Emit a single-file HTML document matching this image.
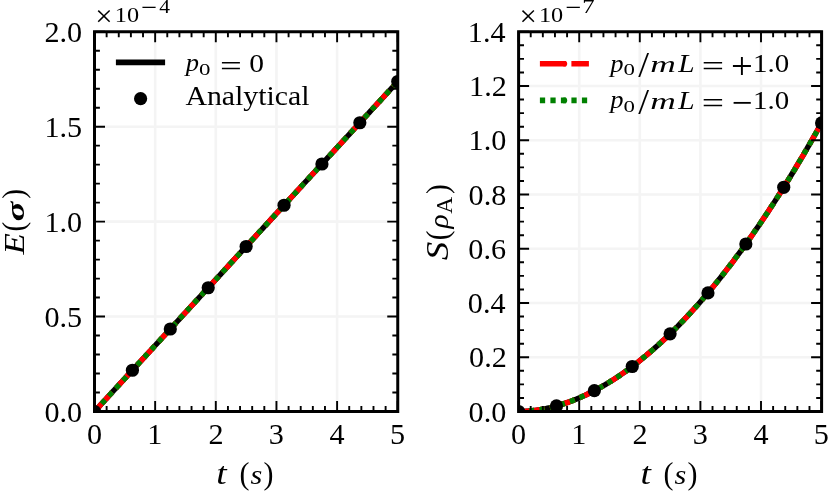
<!DOCTYPE html>
<html><head><meta charset="utf-8"><title>plot</title>
<style>
html,body{margin:0;padding:0;background:#fff;overflow:hidden;}
svg{display:block;}
text{font-family:"Liberation Serif", serif;fill:#000;}
.it{font-style:italic;}
</style></head><body>
<svg width="832" height="493" viewBox="0 0 832 493">
<rect width="832" height="493" fill="#fff"/>
<defs>
<clipPath id="cl"><rect x="94.5" y="31.75" width="303.25" height="379.75"/></clipPath>
<clipPath id="cr"><rect x="518.6" y="31.75" width="303.0" height="379.75"/></clipPath>
</defs>

<path d="M155.15 31.75V411.5M215.8 31.75V411.5M276.45 31.75V411.5M337.1 31.75V411.5M94.5 316.56H397.75M94.5 221.62H397.75M94.5 126.69H397.75" stroke="#f4f4f4" stroke-width="2.6" fill="none"/>
<g clip-path="url(#cl)" fill="none" stroke-width="5.4" stroke-linejoin="round">
<polyline points="94.50,411.50 96.02,409.85 97.53,408.20 99.05,406.55 100.56,404.90 102.08,403.25 103.60,401.60 105.11,399.95 106.63,398.30 108.15,396.65 109.66,395.00 111.18,393.35 112.70,391.70 114.21,390.05 115.73,388.40 117.24,386.75 118.76,385.10 120.28,383.45 121.79,381.80 123.31,380.15 124.83,378.50 126.34,376.85 127.86,375.20 129.37,373.55 130.89,371.90 132.41,370.25 133.92,368.60 135.44,366.95 136.96,365.30 138.47,363.65 139.99,362.00 141.50,360.35 143.02,358.70 144.54,357.05 146.05,355.40 147.57,353.75 149.09,352.10 150.60,350.45 152.12,348.80 153.63,347.15 155.15,345.50 156.67,343.85 158.18,342.20 159.70,340.55 161.22,338.90 162.73,337.25 164.25,335.60 165.76,333.95 167.28,332.30 168.80,330.65 170.31,329.00 171.83,327.35 173.34,325.70 174.86,324.05 176.38,322.40 177.89,320.75 179.41,319.10 180.93,317.45 182.44,315.80 183.96,314.15 185.47,312.50 186.99,310.85 188.51,309.20 190.02,307.55 191.54,305.90 193.06,304.25 194.57,302.60 196.09,300.95 197.61,299.30 199.12,297.65 200.64,296.00 202.15,294.35 203.67,292.70 205.19,291.05 206.70,289.40 208.22,287.75 209.74,286.10 211.25,284.45 212.77,282.80 214.28,281.15 215.80,279.50 217.32,277.85 218.83,276.20 220.35,274.55 221.87,272.90 223.38,271.25 224.90,269.60 226.41,267.95 227.93,266.30 229.45,264.65 230.96,263.00 232.48,261.35 234.00,259.70 235.51,258.05 237.03,256.40 238.54,254.75 240.06,253.10 241.58,251.45 243.09,249.80 244.61,248.15 246.12,246.50 247.64,244.85 249.16,243.20 250.67,241.55 252.19,239.90 253.71,238.25 255.22,236.60 256.74,234.95 258.25,233.30 259.77,231.65 261.29,230.00 262.80,228.35 264.32,226.70 265.84,225.05 267.35,223.40 268.87,221.75 270.38,220.10 271.90,218.45 273.42,216.80 274.93,215.15 276.45,213.50 277.97,211.85 279.48,210.20 281.00,208.55 282.51,206.90 284.03,205.25 285.55,203.60 287.06,201.95 288.58,200.30 290.10,198.65 291.61,197.00 293.13,195.35 294.64,193.70 296.16,192.05 297.68,190.40 299.19,188.75 300.71,187.10 302.23,185.45 303.74,183.80 305.26,182.15 306.77,180.50 308.29,178.85 309.81,177.20 311.32,175.55 312.84,173.90 314.36,172.25 315.87,170.60 317.39,168.95 318.90,167.30 320.42,165.65 321.94,164.00 323.45,162.35 324.97,160.70 326.49,159.05 328.00,157.40 329.52,155.75 331.04,154.10 332.55,152.45 334.07,150.80 335.58,149.15 337.10,147.50 338.62,145.85 340.13,144.20 341.65,142.55 343.17,140.90 344.68,139.25 346.20,137.60 347.71,135.95 349.23,134.30 350.75,132.65 352.26,131.00 353.78,129.35 355.29,127.70 356.81,126.05 358.33,124.40 359.84,122.75 361.36,121.10 362.88,119.45 364.39,117.80 365.91,116.15 367.43,114.50 368.94,112.85 370.46,111.20 371.97,109.55 373.49,107.90 375.01,106.25 376.52,104.60 378.04,102.95 379.56,101.30 381.07,99.65 382.59,98.00 384.10,96.35 385.62,94.70 387.14,93.05 388.65,91.40 390.17,89.75 391.69,88.10 393.20,86.45 394.72,84.80 396.23,83.15 397.75,81.50" stroke="#000" stroke-linecap="square"/>
<polyline points="94.50,411.50 96.02,409.85 97.53,408.20 99.05,406.55 100.56,404.90 102.08,403.25 103.60,401.60 105.11,399.95 106.63,398.30 108.15,396.65 109.66,395.00 111.18,393.35 112.70,391.70 114.21,390.05 115.73,388.40 117.24,386.75 118.76,385.10 120.28,383.45 121.79,381.80 123.31,380.15 124.83,378.50 126.34,376.85 127.86,375.20 129.37,373.55 130.89,371.90 132.41,370.25 133.92,368.60 135.44,366.95 136.96,365.30 138.47,363.65 139.99,362.00 141.50,360.35 143.02,358.70 144.54,357.05 146.05,355.40 147.57,353.75 149.09,352.10 150.60,350.45 152.12,348.80 153.63,347.15 155.15,345.50 156.67,343.85 158.18,342.20 159.70,340.55 161.22,338.90 162.73,337.25 164.25,335.60 165.76,333.95 167.28,332.30 168.80,330.65 170.31,329.00 171.83,327.35 173.34,325.70 174.86,324.05 176.38,322.40 177.89,320.75 179.41,319.10 180.93,317.45 182.44,315.80 183.96,314.15 185.47,312.50 186.99,310.85 188.51,309.20 190.02,307.55 191.54,305.90 193.06,304.25 194.57,302.60 196.09,300.95 197.61,299.30 199.12,297.65 200.64,296.00 202.15,294.35 203.67,292.70 205.19,291.05 206.70,289.40 208.22,287.75 209.74,286.10 211.25,284.45 212.77,282.80 214.28,281.15 215.80,279.50 217.32,277.85 218.83,276.20 220.35,274.55 221.87,272.90 223.38,271.25 224.90,269.60 226.41,267.95 227.93,266.30 229.45,264.65 230.96,263.00 232.48,261.35 234.00,259.70 235.51,258.05 237.03,256.40 238.54,254.75 240.06,253.10 241.58,251.45 243.09,249.80 244.61,248.15 246.12,246.50 247.64,244.85 249.16,243.20 250.67,241.55 252.19,239.90 253.71,238.25 255.22,236.60 256.74,234.95 258.25,233.30 259.77,231.65 261.29,230.00 262.80,228.35 264.32,226.70 265.84,225.05 267.35,223.40 268.87,221.75 270.38,220.10 271.90,218.45 273.42,216.80 274.93,215.15 276.45,213.50 277.97,211.85 279.48,210.20 281.00,208.55 282.51,206.90 284.03,205.25 285.55,203.60 287.06,201.95 288.58,200.30 290.10,198.65 291.61,197.00 293.13,195.35 294.64,193.70 296.16,192.05 297.68,190.40 299.19,188.75 300.71,187.10 302.23,185.45 303.74,183.80 305.26,182.15 306.77,180.50 308.29,178.85 309.81,177.20 311.32,175.55 312.84,173.90 314.36,172.25 315.87,170.60 317.39,168.95 318.90,167.30 320.42,165.65 321.94,164.00 323.45,162.35 324.97,160.70 326.49,159.05 328.00,157.40 329.52,155.75 331.04,154.10 332.55,152.45 334.07,150.80 335.58,149.15 337.10,147.50 338.62,145.85 340.13,144.20 341.65,142.55 343.17,140.90 344.68,139.25 346.20,137.60 347.71,135.95 349.23,134.30 350.75,132.65 352.26,131.00 353.78,129.35 355.29,127.70 356.81,126.05 358.33,124.40 359.84,122.75 361.36,121.10 362.88,119.45 364.39,117.80 365.91,116.15 367.43,114.50 368.94,112.85 370.46,111.20 371.97,109.55 373.49,107.90 375.01,106.25 376.52,104.60 378.04,102.95 379.56,101.30 381.07,99.65 382.59,98.00 384.10,96.35 385.62,94.70 387.14,93.05 388.65,91.40 390.17,89.75 391.69,88.10 393.20,86.45 394.72,84.80 396.23,83.15 397.75,81.50" stroke="#ff0000" stroke-dasharray="26.25 5.25"/>
<polyline points="94.50,411.50 96.02,409.85 97.53,408.20 99.05,406.55 100.56,404.90 102.08,403.25 103.60,401.60 105.11,399.95 106.63,398.30 108.15,396.65 109.66,395.00 111.18,393.35 112.70,391.70 114.21,390.05 115.73,388.40 117.24,386.75 118.76,385.10 120.28,383.45 121.79,381.80 123.31,380.15 124.83,378.50 126.34,376.85 127.86,375.20 129.37,373.55 130.89,371.90 132.41,370.25 133.92,368.60 135.44,366.95 136.96,365.30 138.47,363.65 139.99,362.00 141.50,360.35 143.02,358.70 144.54,357.05 146.05,355.40 147.57,353.75 149.09,352.10 150.60,350.45 152.12,348.80 153.63,347.15 155.15,345.50 156.67,343.85 158.18,342.20 159.70,340.55 161.22,338.90 162.73,337.25 164.25,335.60 165.76,333.95 167.28,332.30 168.80,330.65 170.31,329.00 171.83,327.35 173.34,325.70 174.86,324.05 176.38,322.40 177.89,320.75 179.41,319.10 180.93,317.45 182.44,315.80 183.96,314.15 185.47,312.50 186.99,310.85 188.51,309.20 190.02,307.55 191.54,305.90 193.06,304.25 194.57,302.60 196.09,300.95 197.61,299.30 199.12,297.65 200.64,296.00 202.15,294.35 203.67,292.70 205.19,291.05 206.70,289.40 208.22,287.75 209.74,286.10 211.25,284.45 212.77,282.80 214.28,281.15 215.80,279.50 217.32,277.85 218.83,276.20 220.35,274.55 221.87,272.90 223.38,271.25 224.90,269.60 226.41,267.95 227.93,266.30 229.45,264.65 230.96,263.00 232.48,261.35 234.00,259.70 235.51,258.05 237.03,256.40 238.54,254.75 240.06,253.10 241.58,251.45 243.09,249.80 244.61,248.15 246.12,246.50 247.64,244.85 249.16,243.20 250.67,241.55 252.19,239.90 253.71,238.25 255.22,236.60 256.74,234.95 258.25,233.30 259.77,231.65 261.29,230.00 262.80,228.35 264.32,226.70 265.84,225.05 267.35,223.40 268.87,221.75 270.38,220.10 271.90,218.45 273.42,216.80 274.93,215.15 276.45,213.50 277.97,211.85 279.48,210.20 281.00,208.55 282.51,206.90 284.03,205.25 285.55,203.60 287.06,201.95 288.58,200.30 290.10,198.65 291.61,197.00 293.13,195.35 294.64,193.70 296.16,192.05 297.68,190.40 299.19,188.75 300.71,187.10 302.23,185.45 303.74,183.80 305.26,182.15 306.77,180.50 308.29,178.85 309.81,177.20 311.32,175.55 312.84,173.90 314.36,172.25 315.87,170.60 317.39,168.95 318.90,167.30 320.42,165.65 321.94,164.00 323.45,162.35 324.97,160.70 326.49,159.05 328.00,157.40 329.52,155.75 331.04,154.10 332.55,152.45 334.07,150.80 335.58,149.15 337.10,147.50 338.62,145.85 340.13,144.20 341.65,142.55 343.17,140.90 344.68,139.25 346.20,137.60 347.71,135.95 349.23,134.30 350.75,132.65 352.26,131.00 353.78,129.35 355.29,127.70 356.81,126.05 358.33,124.40 359.84,122.75 361.36,121.10 362.88,119.45 364.39,117.80 365.91,116.15 367.43,114.50 368.94,112.85 370.46,111.20 371.97,109.55 373.49,107.90 375.01,106.25 376.52,104.60 378.04,102.95 379.56,101.30 381.07,99.65 382.59,98.00 384.10,96.35 385.62,94.70 387.14,93.05 388.65,91.40 390.17,89.75 391.69,88.10 393.20,86.45 394.72,84.80 396.23,83.15 397.75,81.50" stroke="#008000" stroke-dasharray="5.25 5.25"/>
</g>
<g clip-path="url(#cl)" fill="#000">
<circle cx="94.50" cy="411.50" r="6.6"/>
<circle cx="132.41" cy="370.25" r="6.6"/>
<circle cx="170.31" cy="329.00" r="6.6"/>
<circle cx="208.22" cy="287.75" r="6.6"/>
<circle cx="246.12" cy="246.50" r="6.6"/>
<circle cx="284.03" cy="205.25" r="6.6"/>
<circle cx="321.94" cy="164.00" r="6.6"/>
<circle cx="359.84" cy="122.75" r="6.6"/>
<circle cx="397.75" cy="81.50" r="6.6"/>
</g>
<path d="M94.5 411.5v-10.5M94.5 31.75v10.5M106.63 411.5v-5.4M106.63 31.75v5.4M118.76 411.5v-5.4M118.76 31.75v5.4M130.89 411.5v-5.4M130.89 31.75v5.4M143.02 411.5v-5.4M143.02 31.75v5.4M155.15 411.5v-10.5M155.15 31.75v10.5M167.28 411.5v-5.4M167.28 31.75v5.4M179.41 411.5v-5.4M179.41 31.75v5.4M191.54 411.5v-5.4M191.54 31.75v5.4M203.67 411.5v-5.4M203.67 31.75v5.4M215.8 411.5v-10.5M215.8 31.75v10.5M227.93 411.5v-5.4M227.93 31.75v5.4M240.06 411.5v-5.4M240.06 31.75v5.4M252.19 411.5v-5.4M252.19 31.75v5.4M264.32 411.5v-5.4M264.32 31.75v5.4M276.45 411.5v-10.5M276.45 31.75v10.5M288.58 411.5v-5.4M288.58 31.75v5.4M300.71 411.5v-5.4M300.71 31.75v5.4M312.84 411.5v-5.4M312.84 31.75v5.4M324.97 411.5v-5.4M324.97 31.75v5.4M337.1 411.5v-10.5M337.1 31.75v10.5M349.23 411.5v-5.4M349.23 31.75v5.4M361.36 411.5v-5.4M361.36 31.75v5.4M373.49 411.5v-5.4M373.49 31.75v5.4M385.62 411.5v-5.4M385.62 31.75v5.4M397.75 411.5v-10.5M397.75 31.75v10.5M94.5 411.5h10.5M397.75 411.5h-10.5M94.5 392.51h5.4M397.75 392.51h-5.4M94.5 373.52h5.4M397.75 373.52h-5.4M94.5 354.54h5.4M397.75 354.54h-5.4M94.5 335.55h5.4M397.75 335.55h-5.4M94.5 316.56h10.5M397.75 316.56h-10.5M94.5 297.57h5.4M397.75 297.57h-5.4M94.5 278.59h5.4M397.75 278.59h-5.4M94.5 259.6h5.4M397.75 259.6h-5.4M94.5 240.61h5.4M397.75 240.61h-5.4M94.5 221.62h10.5M397.75 221.62h-10.5M94.5 202.64h5.4M397.75 202.64h-5.4M94.5 183.65h5.4M397.75 183.65h-5.4M94.5 164.66h5.4M397.75 164.66h-5.4M94.5 145.67h5.4M397.75 145.67h-5.4M94.5 126.69h10.5M397.75 126.69h-10.5M94.5 107.7h5.4M397.75 107.7h-5.4M94.5 88.71h5.4M397.75 88.71h-5.4M94.5 69.72h5.4M397.75 69.72h-5.4M94.5 50.74h5.4M397.75 50.74h-5.4M94.5 31.75h10.5M397.75 31.75h-10.5" stroke="#000" stroke-width="1.9" fill="none"/>
<rect x="94.5" y="31.75" width="303.25" height="379.75" fill="none" stroke="#000" stroke-width="3.0"/>
<text x="86.96" y="443.6" font-size="29.0" textLength="15.08" lengthAdjust="spacingAndGlyphs">0</text>
<text x="147.19" y="443.6" font-size="29.0" textLength="15.08" lengthAdjust="spacingAndGlyphs">1</text>
<text x="208.43" y="443.6" font-size="29.0" textLength="15.08" lengthAdjust="spacingAndGlyphs">2</text>
<text x="268.78" y="443.6" font-size="29.0" textLength="15.08" lengthAdjust="spacingAndGlyphs">3</text>
<text x="329.5" y="443.6" font-size="29.0" textLength="15.08" lengthAdjust="spacingAndGlyphs">4</text>
<text x="389.92" y="443.6" font-size="29.0" textLength="15.08" lengthAdjust="spacingAndGlyphs">5</text>
<text x="44.45" y="421.5" font-size="29.0" textLength="37.7" lengthAdjust="spacingAndGlyphs">0.0</text>
<text x="44.48" y="326.56" font-size="29.0" textLength="37.7" lengthAdjust="spacingAndGlyphs">0.5</text>
<text x="44.45" y="231.62" font-size="29.0" textLength="37.7" lengthAdjust="spacingAndGlyphs">1.0</text>
<text x="44.48" y="136.69" font-size="29.0" textLength="37.7" lengthAdjust="spacingAndGlyphs">1.5</text>
<text x="44.45" y="41.75" font-size="29.0" textLength="37.7" lengthAdjust="spacingAndGlyphs">2.0</text>
<path d="M579.2 31.75V411.5M639.8 31.75V411.5M700.4 31.75V411.5M761 31.75V411.5M518.6 357.25H821.6M518.6 303H821.6M518.6 248.75H821.6M518.6 194.5H821.6M518.6 140.25H821.6M518.6 86H821.6" stroke="#f4f4f4" stroke-width="2.6" fill="none"/>
<g clip-path="url(#cr)" fill="none" stroke-width="5.4" stroke-linejoin="round">
<polyline points="518.60,411.50 520.12,411.49 521.63,411.46 523.14,411.40 524.66,411.33 526.18,411.25 527.69,411.14 529.21,411.02 530.72,410.87 532.24,410.71 533.75,410.54 535.26,410.35 536.78,410.14 538.30,409.91 539.81,409.67 541.33,409.41 542.84,409.14 544.36,408.85 545.87,408.54 547.38,408.22 548.90,407.88 550.42,407.52 551.93,407.15 553.45,406.77 554.96,406.37 556.48,405.95 557.99,405.52 559.50,405.07 561.02,404.61 562.54,404.13 564.05,403.64 565.57,403.13 567.08,402.61 568.60,402.08 570.11,401.52 571.62,400.96 573.14,400.37 574.65,399.78 576.17,399.17 577.69,398.54 579.20,397.90 580.72,397.24 582.23,396.57 583.75,395.89 585.26,395.19 586.77,394.48 588.29,393.75 589.81,393.01 591.32,392.25 592.84,391.48 594.35,390.69 595.87,389.89 597.38,389.08 598.89,388.25 600.41,387.41 601.93,386.55 603.44,385.68 604.96,384.80 606.47,383.90 607.99,382.99 609.50,382.06 611.01,381.12 612.53,380.17 614.05,379.20 615.56,378.22 617.08,377.22 618.59,376.21 620.11,375.19 621.62,374.15 623.13,373.10 624.65,372.04 626.17,370.96 627.68,369.87 629.20,368.76 630.71,367.64 632.23,366.51 633.74,365.36 635.25,364.20 636.77,363.03 638.29,361.84 639.80,360.64 641.32,359.43 642.83,358.20 644.35,356.96 645.86,355.70 647.38,354.43 648.89,353.15 650.40,351.86 651.92,350.55 653.44,349.23 654.95,347.89 656.47,346.54 657.98,345.18 659.50,343.81 661.01,342.42 662.53,341.02 664.04,339.60 665.56,338.18 667.07,336.74 668.59,335.28 670.10,333.81 671.62,332.33 673.13,330.84 674.64,329.33 676.16,327.81 677.68,326.28 679.19,324.74 680.71,323.18 682.22,321.60 683.74,320.02 685.25,318.42 686.77,316.81 688.28,315.19 689.80,313.55 691.31,311.90 692.83,310.24 694.34,308.56 695.86,306.87 697.37,305.17 698.88,303.46 700.40,301.73 701.92,299.99 703.43,298.24 704.95,296.47 706.46,294.69 707.98,292.90 709.49,291.10 711.01,289.28 712.52,287.45 714.04,285.61 715.55,283.75 717.07,281.89 718.58,280.01 720.10,278.11 721.61,276.21 723.12,274.29 724.64,272.36 726.15,270.41 727.67,268.46 729.19,266.49 730.70,264.51 732.22,262.51 733.73,260.51 735.25,258.49 736.76,256.45 738.28,254.41 739.79,252.35 741.31,250.28 742.82,248.20 744.34,246.11 745.85,244.00 747.37,241.88 748.88,239.75 750.39,237.60 751.91,235.44 753.43,233.28 754.94,231.09 756.46,228.90 757.97,226.69 759.49,224.47 761.00,222.24 762.52,220.00 764.03,217.74 765.55,215.47 767.06,213.19 768.58,210.90 770.09,208.59 771.61,206.27 773.12,203.94 774.63,201.60 776.15,199.24 777.67,196.88 779.18,194.50 780.70,192.11 782.21,189.70 783.73,187.29 785.24,184.86 786.75,182.42 788.27,179.96 789.79,177.50 791.30,175.02 792.82,172.53 794.33,170.03 795.85,167.51 797.36,164.99 798.88,162.45 800.39,159.90 801.90,157.34 803.42,154.76 804.94,152.17 806.45,149.57 807.97,146.96 809.48,144.34 811.00,141.70 812.51,139.06 814.03,136.40 815.54,133.72 817.06,131.04 818.57,128.34 820.09,125.64 821.60,122.92" stroke="#000" stroke-linecap="square"/>
<polyline points="518.60,411.50 520.12,411.49 521.63,411.46 523.14,411.40 524.66,411.33 526.18,411.25 527.69,411.14 529.21,411.02 530.72,410.87 532.24,410.71 533.75,410.54 535.26,410.35 536.78,410.14 538.30,409.91 539.81,409.67 541.33,409.41 542.84,409.14 544.36,408.85 545.87,408.54 547.38,408.22 548.90,407.88 550.42,407.52 551.93,407.15 553.45,406.77 554.96,406.37 556.48,405.95 557.99,405.52 559.50,405.07 561.02,404.61 562.54,404.13 564.05,403.64 565.57,403.13 567.08,402.61 568.60,402.08 570.11,401.52 571.62,400.96 573.14,400.37 574.65,399.78 576.17,399.17 577.69,398.54 579.20,397.90 580.72,397.24 582.23,396.57 583.75,395.89 585.26,395.19 586.77,394.48 588.29,393.75 589.81,393.01 591.32,392.25 592.84,391.48 594.35,390.69 595.87,389.89 597.38,389.08 598.89,388.25 600.41,387.41 601.93,386.55 603.44,385.68 604.96,384.80 606.47,383.90 607.99,382.99 609.50,382.06 611.01,381.12 612.53,380.17 614.05,379.20 615.56,378.22 617.08,377.22 618.59,376.21 620.11,375.19 621.62,374.15 623.13,373.10 624.65,372.04 626.17,370.96 627.68,369.87 629.20,368.76 630.71,367.64 632.23,366.51 633.74,365.36 635.25,364.20 636.77,363.03 638.29,361.84 639.80,360.64 641.32,359.43 642.83,358.20 644.35,356.96 645.86,355.70 647.38,354.43 648.89,353.15 650.40,351.86 651.92,350.55 653.44,349.23 654.95,347.89 656.47,346.54 657.98,345.18 659.50,343.81 661.01,342.42 662.53,341.02 664.04,339.60 665.56,338.18 667.07,336.74 668.59,335.28 670.10,333.81 671.62,332.33 673.13,330.84 674.64,329.33 676.16,327.81 677.68,326.28 679.19,324.74 680.71,323.18 682.22,321.60 683.74,320.02 685.25,318.42 686.77,316.81 688.28,315.19 689.80,313.55 691.31,311.90 692.83,310.24 694.34,308.56 695.86,306.87 697.37,305.17 698.88,303.46 700.40,301.73 701.92,299.99 703.43,298.24 704.95,296.47 706.46,294.69 707.98,292.90 709.49,291.10 711.01,289.28 712.52,287.45 714.04,285.61 715.55,283.75 717.07,281.89 718.58,280.01 720.10,278.11 721.61,276.21 723.12,274.29 724.64,272.36 726.15,270.41 727.67,268.46 729.19,266.49 730.70,264.51 732.22,262.51 733.73,260.51 735.25,258.49 736.76,256.45 738.28,254.41 739.79,252.35 741.31,250.28 742.82,248.20 744.34,246.11 745.85,244.00 747.37,241.88 748.88,239.75 750.39,237.60 751.91,235.44 753.43,233.28 754.94,231.09 756.46,228.90 757.97,226.69 759.49,224.47 761.00,222.24 762.52,220.00 764.03,217.74 765.55,215.47 767.06,213.19 768.58,210.90 770.09,208.59 771.61,206.27 773.12,203.94 774.63,201.60 776.15,199.24 777.67,196.88 779.18,194.50 780.70,192.11 782.21,189.70 783.73,187.29 785.24,184.86 786.75,182.42 788.27,179.96 789.79,177.50 791.30,175.02 792.82,172.53 794.33,170.03 795.85,167.51 797.36,164.99 798.88,162.45 800.39,159.90 801.90,157.34 803.42,154.76 804.94,152.17 806.45,149.57 807.97,146.96 809.48,144.34 811.00,141.70 812.51,139.06 814.03,136.40 815.54,133.72 817.06,131.04 818.57,128.34 820.09,125.64 821.60,122.92" stroke="#ff0000" stroke-dasharray="26.25 5.25"/>
<polyline points="518.60,411.50 520.12,411.49 521.63,411.46 523.14,411.40 524.66,411.33 526.18,411.25 527.69,411.14 529.21,411.02 530.72,410.87 532.24,410.71 533.75,410.54 535.26,410.35 536.78,410.14 538.30,409.91 539.81,409.67 541.33,409.41 542.84,409.14 544.36,408.85 545.87,408.54 547.38,408.22 548.90,407.88 550.42,407.52 551.93,407.15 553.45,406.77 554.96,406.37 556.48,405.95 557.99,405.52 559.50,405.07 561.02,404.61 562.54,404.13 564.05,403.64 565.57,403.13 567.08,402.61 568.60,402.08 570.11,401.52 571.62,400.96 573.14,400.37 574.65,399.78 576.17,399.17 577.69,398.54 579.20,397.90 580.72,397.24 582.23,396.57 583.75,395.89 585.26,395.19 586.77,394.48 588.29,393.75 589.81,393.01 591.32,392.25 592.84,391.48 594.35,390.69 595.87,389.89 597.38,389.08 598.89,388.25 600.41,387.41 601.93,386.55 603.44,385.68 604.96,384.80 606.47,383.90 607.99,382.99 609.50,382.06 611.01,381.12 612.53,380.17 614.05,379.20 615.56,378.22 617.08,377.22 618.59,376.21 620.11,375.19 621.62,374.15 623.13,373.10 624.65,372.04 626.17,370.96 627.68,369.87 629.20,368.76 630.71,367.64 632.23,366.51 633.74,365.36 635.25,364.20 636.77,363.03 638.29,361.84 639.80,360.64 641.32,359.43 642.83,358.20 644.35,356.96 645.86,355.70 647.38,354.43 648.89,353.15 650.40,351.86 651.92,350.55 653.44,349.23 654.95,347.89 656.47,346.54 657.98,345.18 659.50,343.81 661.01,342.42 662.53,341.02 664.04,339.60 665.56,338.18 667.07,336.74 668.59,335.28 670.10,333.81 671.62,332.33 673.13,330.84 674.64,329.33 676.16,327.81 677.68,326.28 679.19,324.74 680.71,323.18 682.22,321.60 683.74,320.02 685.25,318.42 686.77,316.81 688.28,315.19 689.80,313.55 691.31,311.90 692.83,310.24 694.34,308.56 695.86,306.87 697.37,305.17 698.88,303.46 700.40,301.73 701.92,299.99 703.43,298.24 704.95,296.47 706.46,294.69 707.98,292.90 709.49,291.10 711.01,289.28 712.52,287.45 714.04,285.61 715.55,283.75 717.07,281.89 718.58,280.01 720.10,278.11 721.61,276.21 723.12,274.29 724.64,272.36 726.15,270.41 727.67,268.46 729.19,266.49 730.70,264.51 732.22,262.51 733.73,260.51 735.25,258.49 736.76,256.45 738.28,254.41 739.79,252.35 741.31,250.28 742.82,248.20 744.34,246.11 745.85,244.00 747.37,241.88 748.88,239.75 750.39,237.60 751.91,235.44 753.43,233.28 754.94,231.09 756.46,228.90 757.97,226.69 759.49,224.47 761.00,222.24 762.52,220.00 764.03,217.74 765.55,215.47 767.06,213.19 768.58,210.90 770.09,208.59 771.61,206.27 773.12,203.94 774.63,201.60 776.15,199.24 777.67,196.88 779.18,194.50 780.70,192.11 782.21,189.70 783.73,187.29 785.24,184.86 786.75,182.42 788.27,179.96 789.79,177.50 791.30,175.02 792.82,172.53 794.33,170.03 795.85,167.51 797.36,164.99 798.88,162.45 800.39,159.90 801.90,157.34 803.42,154.76 804.94,152.17 806.45,149.57 807.97,146.96 809.48,144.34 811.00,141.70 812.51,139.06 814.03,136.40 815.54,133.72 817.06,131.04 818.57,128.34 820.09,125.64 821.60,122.92" stroke="#008000" stroke-dasharray="5.25 5.25"/>
</g>
<g clip-path="url(#cr)" fill="#000">
<circle cx="518.60" cy="411.50" r="6.6"/>
<circle cx="556.48" cy="405.95" r="6.6"/>
<circle cx="594.35" cy="390.69" r="6.6"/>
<circle cx="632.23" cy="366.51" r="6.6"/>
<circle cx="670.10" cy="333.81" r="6.6"/>
<circle cx="707.98" cy="292.90" r="6.6"/>
<circle cx="745.85" cy="244.00" r="6.6"/>
<circle cx="783.73" cy="187.29" r="6.6"/>
<circle cx="821.60" cy="122.92" r="6.6"/>
</g>
<path d="M518.6 411.5v-10.5M518.6 31.75v10.5M530.72 411.5v-5.4M530.72 31.75v5.4M542.84 411.5v-5.4M542.84 31.75v5.4M554.96 411.5v-5.4M554.96 31.75v5.4M567.08 411.5v-5.4M567.08 31.75v5.4M579.2 411.5v-10.5M579.2 31.75v10.5M591.32 411.5v-5.4M591.32 31.75v5.4M603.44 411.5v-5.4M603.44 31.75v5.4M615.56 411.5v-5.4M615.56 31.75v5.4M627.68 411.5v-5.4M627.68 31.75v5.4M639.8 411.5v-10.5M639.8 31.75v10.5M651.92 411.5v-5.4M651.92 31.75v5.4M664.04 411.5v-5.4M664.04 31.75v5.4M676.16 411.5v-5.4M676.16 31.75v5.4M688.28 411.5v-5.4M688.28 31.75v5.4M700.4 411.5v-10.5M700.4 31.75v10.5M712.52 411.5v-5.4M712.52 31.75v5.4M724.64 411.5v-5.4M724.64 31.75v5.4M736.76 411.5v-5.4M736.76 31.75v5.4M748.88 411.5v-5.4M748.88 31.75v5.4M761 411.5v-10.5M761 31.75v10.5M773.12 411.5v-5.4M773.12 31.75v5.4M785.24 411.5v-5.4M785.24 31.75v5.4M797.36 411.5v-5.4M797.36 31.75v5.4M809.48 411.5v-5.4M809.48 31.75v5.4M821.6 411.5v-10.5M821.6 31.75v10.5M518.6 411.5h10.5M821.6 411.5h-10.5M518.6 397.94h5.4M821.6 397.94h-5.4M518.6 384.38h5.4M821.6 384.38h-5.4M518.6 370.81h5.4M821.6 370.81h-5.4M518.6 357.25h10.5M821.6 357.25h-10.5M518.6 343.69h5.4M821.6 343.69h-5.4M518.6 330.12h5.4M821.6 330.12h-5.4M518.6 316.56h5.4M821.6 316.56h-5.4M518.6 303h10.5M821.6 303h-10.5M518.6 289.44h5.4M821.6 289.44h-5.4M518.6 275.88h5.4M821.6 275.88h-5.4M518.6 262.31h5.4M821.6 262.31h-5.4M518.6 248.75h10.5M821.6 248.75h-10.5M518.6 235.19h5.4M821.6 235.19h-5.4M518.6 221.62h5.4M821.6 221.62h-5.4M518.6 208.06h5.4M821.6 208.06h-5.4M518.6 194.5h10.5M821.6 194.5h-10.5M518.6 180.94h5.4M821.6 180.94h-5.4M518.6 167.38h5.4M821.6 167.38h-5.4M518.6 153.81h5.4M821.6 153.81h-5.4M518.6 140.25h10.5M821.6 140.25h-10.5M518.6 126.69h5.4M821.6 126.69h-5.4M518.6 113.12h5.4M821.6 113.12h-5.4M518.6 99.56h5.4M821.6 99.56h-5.4M518.6 86h10.5M821.6 86h-10.5M518.6 72.44h5.4M821.6 72.44h-5.4M518.6 58.88h5.4M821.6 58.88h-5.4M518.6 45.31h5.4M821.6 45.31h-5.4M518.6 31.75h10.5M821.6 31.75h-10.5" stroke="#000" stroke-width="1.9" fill="none"/>
<rect x="518.6" y="31.75" width="303.0" height="379.75" fill="none" stroke="#000" stroke-width="3.0"/>
<text x="511.06" y="443.6" font-size="29.0" textLength="15.08" lengthAdjust="spacingAndGlyphs">0</text>
<text x="571.24" y="443.6" font-size="29.0" textLength="15.08" lengthAdjust="spacingAndGlyphs">1</text>
<text x="632.43" y="443.6" font-size="29.0" textLength="15.08" lengthAdjust="spacingAndGlyphs">2</text>
<text x="692.73" y="443.6" font-size="29.0" textLength="15.08" lengthAdjust="spacingAndGlyphs">3</text>
<text x="753.4" y="443.6" font-size="29.0" textLength="15.08" lengthAdjust="spacingAndGlyphs">4</text>
<text x="813.77" y="443.6" font-size="29.0" textLength="15.08" lengthAdjust="spacingAndGlyphs">5</text>
<text x="468.55" y="421.5" font-size="29.0" textLength="37.7" lengthAdjust="spacingAndGlyphs">0.0</text>
<text x="469.06" y="367.25" font-size="29.0" textLength="37.7" lengthAdjust="spacingAndGlyphs">0.2</text>
<text x="467.87" y="313" font-size="29.0" textLength="37.7" lengthAdjust="spacingAndGlyphs">0.4</text>
<text x="468.3" y="258.75" font-size="29.0" textLength="37.7" lengthAdjust="spacingAndGlyphs">0.6</text>
<text x="468.55" y="204.5" font-size="29.0" textLength="37.7" lengthAdjust="spacingAndGlyphs">0.8</text>
<text x="468.55" y="150.25" font-size="29.0" textLength="37.7" lengthAdjust="spacingAndGlyphs">1.0</text>
<text x="469.06" y="96" font-size="29.0" textLength="37.7" lengthAdjust="spacingAndGlyphs">1.2</text>
<text x="467.87" y="41.75" font-size="29.0" textLength="37.7" lengthAdjust="spacingAndGlyphs">1.4</text>
<text x="95.37" y="26.06" font-size="29.96" textLength="17.33" lengthAdjust="spacingAndGlyphs">×</text>
<text x="114.87" y="21.54" font-size="21.27" textLength="24.26" lengthAdjust="spacingAndGlyphs">10</text>
<text x="141.39" y="16.43" font-size="26" textLength="16.0" lengthAdjust="spacingAndGlyphs">−</text>
<text x="159.38" y="12.8" font-size="17.78" textLength="10.76" lengthAdjust="spacingAndGlyphs">4</text>
<text x="519.47" y="26.06" font-size="29.96" textLength="17.33" lengthAdjust="spacingAndGlyphs">×</text>
<text x="538.97" y="21.54" font-size="21.27" textLength="24.26" lengthAdjust="spacingAndGlyphs">10</text>
<text x="565.49" y="16.43" font-size="26" textLength="16.0" lengthAdjust="spacingAndGlyphs">−</text>
<text x="582.27" y="12.8" font-size="17.87" textLength="12.34" lengthAdjust="spacingAndGlyphs">7</text>
<text x="216.36" y="483.89" font-size="31.95" textLength="10.4" lengthAdjust="spacingAndGlyphs" font-style="italic">t</text>
<text x="239.38" y="483.75" font-size="30.77" textLength="9.98" lengthAdjust="spacingAndGlyphs">(</text>
<text x="250.43" y="483.93" font-size="27.45" textLength="11.79" lengthAdjust="spacingAndGlyphs" font-style="italic">s</text>
<text x="263.43" y="483.75" font-size="30.77" textLength="9.98" lengthAdjust="spacingAndGlyphs">)</text>
<text x="640.46" y="483.89" font-size="31.95" textLength="10.4" lengthAdjust="spacingAndGlyphs" font-style="italic">t</text>
<text x="663.48" y="483.75" font-size="30.77" textLength="9.98" lengthAdjust="spacingAndGlyphs">(</text>
<text x="674.53" y="483.93" font-size="27.45" textLength="11.79" lengthAdjust="spacingAndGlyphs" font-style="italic">s</text>
<text x="687.53" y="483.75" font-size="30.77" textLength="9.98" lengthAdjust="spacingAndGlyphs">)</text>
<g transform="translate(24.2,254.9) rotate(-90)">
<text x="0.41" y="0.0" font-size="30.09" textLength="21.25" lengthAdjust="spacingAndGlyphs" font-style="italic">E</text>
<text x="23.42" y="-0.07" font-size="31.32" textLength="9.72" lengthAdjust="spacingAndGlyphs">(</text>
<text x="33.55" y="-0.04" font-size="25.04" textLength="19.7" lengthAdjust="spacingAndGlyphs" font-style="italic" font-weight="bold">σ</text>
<text x="56.16" y="-0.07" font-size="31.32" textLength="9.72" lengthAdjust="spacingAndGlyphs">)</text>
</g>
<g transform="translate(448.3,259.9) rotate(-90)">
<text x="-0.43" y="-0.1" font-size="30.96" textLength="18.53" lengthAdjust="spacingAndGlyphs" font-style="italic">S</text>
<text x="19.72" y="-0.07" font-size="31.32" textLength="9.72" lengthAdjust="spacingAndGlyphs">(</text>
<text x="31.44" y="-0.36" font-size="28.0" textLength="14.04" lengthAdjust="spacingAndGlyphs" font-style="italic">ρ</text>
<text x="46.27" y="4.1" font-size="23.02" textLength="16.8" lengthAdjust="spacingAndGlyphs">A</text>
<text x="65.96" y="-0.07" font-size="31.32" textLength="9.72" lengthAdjust="spacingAndGlyphs">)</text>
</g>
<path d="M115.9 62.4H165.1" stroke="#000" stroke-width="5.6" fill="none"/>
<circle cx="140.6" cy="98.7" r="6.6" fill="#000"/>
<text x="185.85" y="70.8" font-size="24.41" textLength="13.25" lengthAdjust="spacingAndGlyphs" font-style="italic">p</text>
<text x="199.13" y="74.53" font-size="17.04" textLength="11.44" lengthAdjust="spacingAndGlyphs">0</text>
<text x="220.07" y="75.55" font-size="29.2" textLength="21.82" lengthAdjust="spacingAndGlyphs">=</text>
<text x="249.18" y="71.55" font-size="25.34" textLength="14.75" lengthAdjust="spacingAndGlyphs">0</text>
<text x="185.41" y="105.15" font-size="27" textLength="124.19" lengthAdjust="spacingAndGlyphs">Analytical</text>
<path d="M539.9 63.75H588.9" stroke="#ff0000" stroke-width="5.6" stroke-dasharray="26.25 5.25" fill="none"/>
<path d="M539.9 100.4H588.9" stroke="#008000" stroke-width="5.6" stroke-dasharray="5.25 5.25" fill="none"/>
<circle cx="564.4" cy="63.75" r="2.8" fill="#ff0000"/><circle cx="564.4" cy="100.4" r="2.8" fill="#008000"/>
<text x="610.35" y="71.6" font-size="24.41" textLength="13.25" lengthAdjust="spacingAndGlyphs" font-style="italic">p</text>
<text x="623.63" y="75.33" font-size="17.04" textLength="11.44" lengthAdjust="spacingAndGlyphs">0</text>
<text x="638.3" y="77.05" font-size="35.88" textLength="10.8" lengthAdjust="spacingAndGlyphs">/</text>
<text x="650.22" y="72.1" font-size="23.77" textLength="25.57" lengthAdjust="spacingAndGlyphs" font-style="italic">m</text>
<text x="678.24" y="72.1" font-size="24.13" textLength="16.35" lengthAdjust="spacingAndGlyphs" font-style="italic">L</text>
<text x="701.83" y="76.03" font-size="29.6" textLength="22.3" lengthAdjust="spacingAndGlyphs">=</text>
<text x="731.07" y="79.27" font-size="38.0" textLength="21.82" lengthAdjust="spacingAndGlyphs">+</text>
<text x="752.96" y="72.2" font-size="25" textLength="36.14" lengthAdjust="spacingAndGlyphs">1.0</text>
<text x="610.35" y="108.2" font-size="24.41" textLength="13.25" lengthAdjust="spacingAndGlyphs" font-style="italic">p</text>
<text x="623.63" y="111.93" font-size="17.04" textLength="11.44" lengthAdjust="spacingAndGlyphs">0</text>
<text x="638.3" y="113.65" font-size="35.88" textLength="10.8" lengthAdjust="spacingAndGlyphs">/</text>
<text x="650.22" y="108.7" font-size="23.77" textLength="25.57" lengthAdjust="spacingAndGlyphs" font-style="italic">m</text>
<text x="678.24" y="108.7" font-size="24.13" textLength="16.35" lengthAdjust="spacingAndGlyphs" font-style="italic">L</text>
<text x="701.83" y="112.63" font-size="29.6" textLength="22.3" lengthAdjust="spacingAndGlyphs">=</text>
<text x="731.76" y="115.18" font-size="37" textLength="20.85" lengthAdjust="spacingAndGlyphs">−</text>
<text x="752.96" y="108.8" font-size="25" textLength="36.14" lengthAdjust="spacingAndGlyphs">1.0</text>
</svg></body></html>
